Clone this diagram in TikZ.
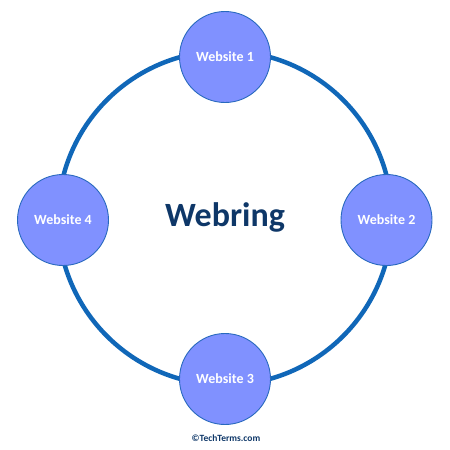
\documentclass[tikz,border=0pt]{standalone}
\usepackage{fontspec}
\setmainfont{Carlito}
\usetikzlibrary{positioning}
\definecolor{ringblue}{RGB}{16,103,184}
\definecolor{sitefill}{RGB}{128,145,255}
\definecolor{siteline}{RGB}{40,105,190}
\definecolor{navy}{RGB}{14,55,104}

\begin{document}
\begin{tikzpicture}[x=1pt,y=-1pt,
  ring/.style={draw=ringblue,line width=4.5pt},
  site/.style={circle,draw=siteline,line width=0.9pt,fill=sitefill,minimum size=91pt,inner sep=0pt,
    text=white,font=\fontsize{14}{16}\selectfont\bfseries},
  title/.style={text=navy,font=\fontsize{34}{40}\selectfont\bfseries},
  credit/.style={text=navy,font=\fontsize{9.5}{11}\selectfont\bfseries}]
\useasboundingbox (0,0) rectangle (450,450);
\coordinate (hub) at (225,218);
\draw [ring] (hub) circle (167);
\node [site] (w1) at (225,57) {Website 1};
\node [site] (w2) at (386.5,220) {Website 2};
\node [site] (w3) at (225,379) {Website 3};
\node [site] (w4) at (63,220) {Website 4};
\node [title] (web) at (225,217) {Webring};
\node [credit] (tt) at (226,438) {©TechTerms.com};
\end{tikzpicture}
\end{document}
